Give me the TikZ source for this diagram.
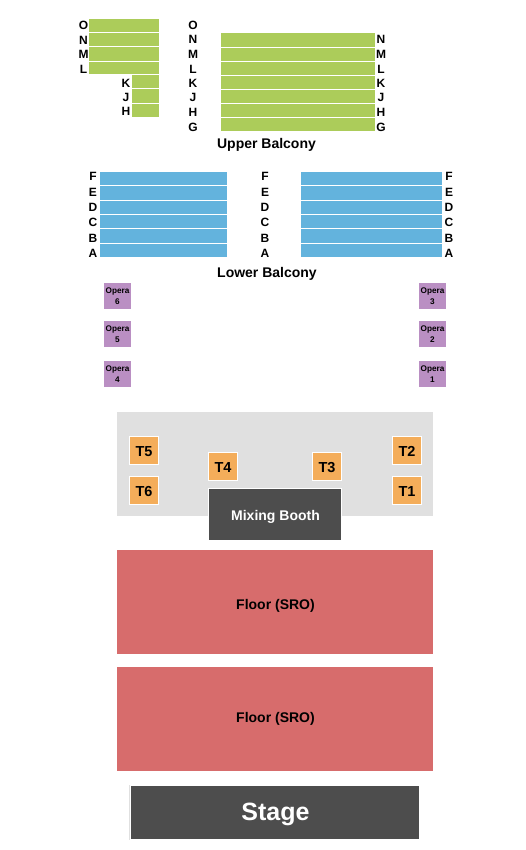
\documentclass[tikz,border=0pt]{standalone}
\usepackage{fontspec}
\setmainfont{Liberation Sans}
\definecolor{balcgreen}{HTML}{ACCC5A}
\definecolor{balcblue}{HTML}{63B3DD}
\definecolor{operapurple}{HTML}{BA8FC3}
\definecolor{tableorange}{HTML}{F4AD5A}
\definecolor{pitgray}{HTML}{E0E0E0}
\definecolor{darkbox}{HTML}{4D4D4D}
\definecolor{floorred}{HTML}{D76C6C}
\tikzset{
  rowlabel/.style={font=\bfseries\fontsize{12}{12}\selectfont, text=black, inner sep=0pt},
  title/.style={font=\bfseries\fontsize{14}{15}\selectfont, text=black, inner sep=0pt},
  operabox/.style={fill=operapurple, minimum width=27pt, minimum height=26pt, inner sep=0pt, align=center,
    font=\bfseries\fontsize{8.2}{10.5}\selectfont},
  tablebox/.style={fill=tableorange, draw=white, line width=0.8pt, minimum width=29.4pt, minimum height=28pt,
    inner sep=0pt, font=\bfseries\fontsize{14.5}{15}\selectfont}
}

\begin{document}
\begin{tikzpicture}[x=1pt, y=-1pt]
  \useasboundingbox (0,0) rectangle (525,850);
  % upper balcony, left block
  \foreach \ya/\yb/\lab/\ly in {19/32.3/O/25.5, 33/46.3/N/40, 47/60.7/M/54, 62/73.8/L/69.5}{
    \fill[balcgreen] (89,\ya) rectangle (159,\yb);
    \node[rowlabel] (ul\lab) at (83.5,\ly) {\lab};
  }
  \foreach \ya/\yb/\lab/\ly in {74.7/87.8/K/83, 89/102.7/J/97.5, 104/117/H/111}{
    \fill[balcgreen] (132,\ya) rectangle (159,\yb);
    \node[rowlabel] (ul\lab) at (126,\ly) {\lab};
  }
  % upper balcony, centre block
  \foreach \ya/\yb/\lab/\ly in {33/47/N/39.5, 47.8/61/M/54, 62/75/L/69, 76/89/K/83.5, 90/103/J/97.5, 104/117/H/112, 118/131/G/127.5}{
    \fill[balcgreen] (221,\ya) rectangle (375,\yb);
    \node[rowlabel] (uc\lab) at (193,\ly) {\lab};
    \node[rowlabel] (ur\lab) at (381,\ly) {\lab};
  }
  \node[rowlabel] (ucO) at (193,25.5) {O};
  \node[title] (upper) at (266.5,144.5) {Upper Balcony};
  % lower balcony
  \foreach \ya/\yb/\lab/\ly in {172/185/F/176, 186/200/E/192, 201/214/D/207, 215/228/C/222, 229/243/B/238, 244/257/A/253}{
    \fill[balcblue] (100,\ya) rectangle (227,\yb);
    \fill[balcblue] (301,\ya) rectangle (442,\yb);
    \node[rowlabel] (ll\lab) at (93,\ly) {\lab};
    \node[rowlabel] (lc\lab) at (265,\ly) {\lab};
    \node[rowlabel] (lr\lab) at (449,\ly) {\lab};
  }
  \node[title] (lower) at (267,274) {Lower Balcony};
  % opera boxes
  \foreach \nm/\px/\py in {6/117.5/296, 5/117.5/334, 4/117.5/374, 3/432.5/296, 2/432.5/334, 1/432.5/374}{
    \node[operabox] (opera\nm) at (\px,\py) {Opera\\\nm};
  }
  % tables on the grey area
  \fill[pitgray] (117,412) rectangle (433,516);
  \foreach \nm/\px/\py in {5/144/450, 6/144/490, 4/223/466, 3/327/466, 2/407/450, 1/407/490}{
    \node[tablebox, text depth=0pt, text height=11pt, yshift=-0.5pt] (table\nm) at (\px,\py) {T\nm};
  }
  \fill[darkbox] (208.5,488.5) rectangle (341.5,540);
  \draw[white, line width=0.8pt] (208.4,540) -- (208.4,488.4) -- (341.6,488.4) -- (341.6,540);
  \node[title, text=white] (booth) at (275.5,517) {Mixing Booth};
  % floor
  \fill[floorred] (117,550) rectangle (433,654);
  \fill[floorred] (117,667) rectangle (433,771);
  \node[title] (floorA) at (275.5,606) {Floor (SRO)};
  \node[title] (floorB) at (275.5,719) {Floor (SRO)};
  % stage
  \draw[pitgray, line width=1pt] (129.7,785) -- (129.7,840);
  \fill[darkbox] (131,786) rectangle (419,839);
  \node[font=\bfseries\fontsize{25}{26}\selectfont, text=white, inner sep=0pt] (stage) at (275.5,814.5) {Stage};
\end{tikzpicture}
\end{document}
